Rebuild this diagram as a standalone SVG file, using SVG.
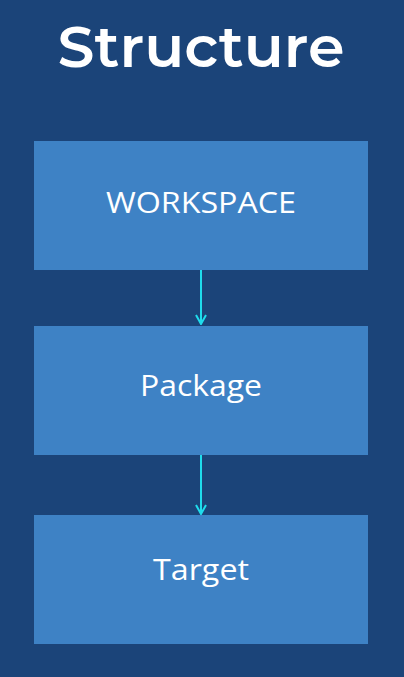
<svg xmlns="http://www.w3.org/2000/svg" width="404" height="677" viewBox="0 0 404 677">
<style>
.node rect{fill:#3e82c5}
.node text{fill:#ffffff;font-family:"Open Sans","Liberation Sans",sans-serif;font-size:30px;font-weight:400;text-anchor:middle}
.conn line{stroke:#1fdcec;stroke-width:2}
</style>
<defs>
<marker id="arr" viewBox="0 0 12 12" refX="11" refY="6" markerWidth="12" markerHeight="12" markerUnits="userSpaceOnUse" orient="auto">
<path d="M2,1 L11,6 L2,11" fill="none" stroke="#1fdcec" stroke-width="2"/>
</marker>
</defs>
<rect width="404" height="677" fill="#1b4479"/>
<text x="201" y="67" fill="#ffffff" font-family="Montserrat,'Open Sans','Liberation Sans',sans-serif" font-weight="600" font-size="58" text-anchor="middle" textLength="287" lengthAdjust="spacingAndGlyphs">Structure</text>
<g id="workspace" class="node"><rect x="34" y="141" width="334" height="129"/><text x="201" y="213" font-size="33" textLength="190" lengthAdjust="spacingAndGlyphs">WORKSPACE</text></g>
<g id="package" class="node"><rect x="34" y="326" width="334" height="129"/><text x="201" y="396" textLength="122" lengthAdjust="spacingAndGlyphs">Package</text></g>
<g id="target" class="node"><rect x="34" y="515" width="334" height="129"/><text x="201" y="580" textLength="96" lengthAdjust="spacingAndGlyphs">Target</text></g>
<g id="connectors" class="conn">
<line x1="201" y1="270" x2="201" y2="324" marker-end="url(#arr)"/>
<line x1="201" y1="455" x2="201" y2="514" marker-end="url(#arr)"/>
</g>
</svg>
